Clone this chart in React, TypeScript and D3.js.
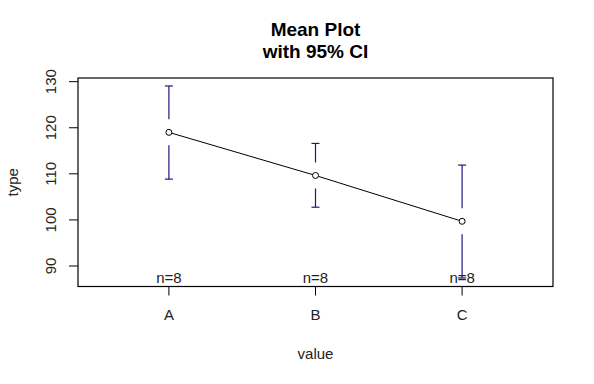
import React from "react";
import * as d3 from "d3";

const categories = ["A", "B", "C"];
const means = [119.0, 109.65, 99.7];
const ciLower = [108.85, 102.76, 87.4];
const ciUpper = [129.07, 116.6, 111.9];
const counts = [8, 8, 8];
const yTicks = [90, 100, 110, 120, 130];

const W = 594;
const H = 384;
const L = 78, R = 553, T = 78, B = 286.5;
const FONT = "'Liberation Sans', Arial, Helvetica, sans-serif";
const BAR = "#1a1a80";

export default function App() {
  const x = d3.scaleLinear().domain([0.38, 3.62]).range([L, R]);
  const y = d3.scaleLinear().domain([85.55, 130.8]).range([B, T]);
  const pts: [number, number][] = means.map((m, i) => [x(i + 1), y(m)]);
  const line = d3.line()(pts) || "";
  const gap = 13;
  const cap = 4;
  return (
    <svg width={W} height={H} style={{ position: "absolute", left: 0, top: 0, background: "#fff" }} fontFamily={FONT}>
      <rect x={0} y={0} width={W} height={H} fill="#fff" />
      <text x={(L + R) / 2} y={36} textAnchor="middle" fontWeight="bold" fontSize={19}>Mean Plot</text>
      <text x={(L + R) / 2} y={58} textAnchor="middle" fontWeight="bold" fontSize={19}>with 95% CI</text>
      <rect x={L} y={T} width={R - L} height={B - T} fill="none" stroke="#000" strokeWidth={1.2} />
      {yTicks.map((t) => (
        <g key={t}>
          <line x1={L - 9} x2={L} y1={y(t)} y2={y(t)} stroke="#000" />
          <text transform={`translate(56,${y(t)}) rotate(-90)`} textAnchor="middle" fontSize={15} fill="#222">{t}</text>
        </g>
      ))}
      {categories.map((c, i) => (
        <g key={c}>
          <line x1={x(i + 1)} x2={x(i + 1)} y1={B} y2={B + 9} stroke="#000" />
          <text x={x(i + 1)} y={320} textAnchor="middle" fontSize={15} fill="#222">{c}</text>
        </g>
      ))}
      <text x={(L + R) / 2} y={359} textAnchor="middle" fontSize={15} fill="#222">value</text>
      <text transform={`translate(18,${(T + B) / 2}) rotate(-90)`} textAnchor="middle" fontSize={15} fill="#222">type</text>
      <path d={line} fill="none" stroke="#000" strokeWidth={1} />
      {means.map((m, i) => {
        const cx = x(i + 1);
        const cy = y(m);
        return (
          <g key={i} stroke={BAR} strokeWidth={1.2}>
            <line x1={cx} x2={cx} y1={y(ciUpper[i])} y2={cy - gap} />
            <line x1={cx} x2={cx} y1={cy + gap} y2={y(ciLower[i])} />
            <line x1={cx - cap} x2={cx + cap} y1={y(ciUpper[i])} y2={y(ciUpper[i])} />
            <line x1={cx - cap} x2={cx + cap} y1={y(ciLower[i])} y2={y(ciLower[i])} />
          </g>
        );
      })}
      {means.map((m, i) => (
        <circle key={i} cx={x(i + 1)} cy={y(m)} r={3} fill="#fff" stroke="#000" strokeWidth={1} />
      ))}
      {counts.map((n, i) => (
        <text key={i} x={x(i + 1)} y={283} textAnchor="middle" fontSize={15} fill="#222">{`n=${n}`}</text>
      ))}
    </svg>
  );
}
